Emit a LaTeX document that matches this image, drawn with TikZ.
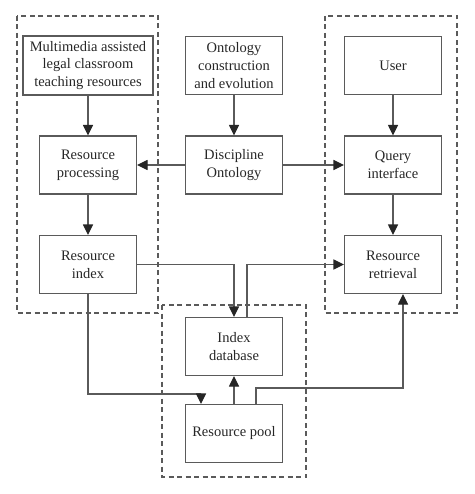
\documentclass[tikz,border=0pt]{standalone}
\usepackage{fontspec}
\setmainfont{Liberation Serif}
\usetikzlibrary{arrows.meta, positioning}
\definecolor{linegray}{HTML}{5A5A5A}
\definecolor{textgray}{HTML}{262626}
\tikzstyle{process} = [rectangle, minimum width=97pt, minimum height=58pt, text centered, align=center, draw=linegray, line width=1.1pt, text=textgray, font=\fontsize{14.5}{17.8}\selectfont]
\tikzstyle{wideprocess} = [process, minimum width=130pt, minimum height=59pt]
\tikzstyle{arrow} = [draw=linegray, line width=1.1pt, -{Triangle[length=10.5pt, width=10pt, color=black!85]}]
\tikzstyle{group} = [draw=linegray, line width=1.1pt, dash pattern=on 5pt off 3.5pt]

\begin{document}
\begin{tikzpicture}[x=1pt, y=1pt, node distance=99.5pt]
	\useasboundingbox (0,0) rectangle (474,-494);
	
	\node (media) [wideprocess] at (88,-65.5) {Multimedia assisted\\legal classroom\\teaching resources};
	\node (proc) [process, below of=media] {Resource\\processing};
	\node (rindex) [process, below of=proc] {Resource\\index};
	
	\node (build) [process] at (234,-65.5) {Ontology\\construction\\and evolution};
	\node (disc) [process, below of=build] {Discipline\\Ontology};
	
	\node (user) [process] at (393,-65.5) {User};
	\node (query) [process, below of=user] {Query\\interface};
	\node (retr) [process, below of=query] {Resource\\retrieval};
	
	\node (db) [process] at (234,-346.5) {Index\\database};
	\node (pool) [process, below of=db, node distance=87pt] {Resource pool};
	
	% dashed groups
	\draw [group] (17,-16) rectangle (158,-313);
	\draw [group] (325,-16) rectangle (457,-313);
	\draw [group] (162,-305) rectangle (306,-477);
	
	\draw [arrow] (media) -- (proc);
	\draw [arrow] (proc) -- (rindex);
	\draw [arrow] (build) -- (disc);
	\draw [arrow] (disc) -- (proc);
	\draw [arrow] (disc) -- (query);
	\draw [arrow] (user) -- (query);
	\draw [arrow] (query) -- (retr);
	\draw [arrow] (rindex.east) -| (db.north);
	\draw [arrow] ([xshift=13pt]db.north) |- (retr.west);
	\draw [arrow] (rindex.south) |- ([xshift=-33pt, yshift=10pt]pool.north) -- ([xshift=-33pt]pool.north);
	\draw [arrow] (pool) -- (db);
	\draw [arrow] ([xshift=22pt]pool.north) -- ++(0,16) -| ([xshift=10pt]retr.south);
	
\end{tikzpicture}
\end{document}
